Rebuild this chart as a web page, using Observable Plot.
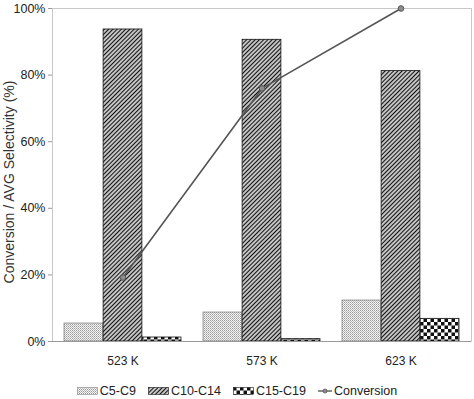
<!DOCTYPE html>
<html><head><meta charset="utf-8">
<script src="https://cdn.jsdelivr.net/npm/d3@7"></script>
<script src="https://cdn.jsdelivr.net/npm/@observablehq/plot@0.6"></script>
<style>
body{margin:0;background:#fff;font-family:"Liberation Sans Narrow","Liberation Sans",Arial,sans-serif;}
#legend{display:flex;justify-content:center;align-items:center;height:16px;margin-top:3px;font-size:12.5px;color:#222;width:474px;}
#legend .it{display:flex;align-items:center;margin:0 6px;}
#legend svg{margin-right:2px;}
</style></head><body>
<svg width="0" height="0" style="position:absolute">
<defs>
<pattern id="dots" patternUnits="userSpaceOnUse" width="2" height="2"><rect width="2" height="2" fill="#f4f4f4"/><rect width="1" height="1" fill="#999"/><rect x="1" y="1" width="1" height="1" fill="#bbb"/></pattern>
<pattern id="hatch" patternUnits="userSpaceOnUse" width="3" height="3" patternTransform="rotate(45)"><rect width="3" height="3" fill="#fff"/><line x1="1.5" y1="0" x2="1.5" y2="3" stroke="#111" stroke-width="1.5"/></pattern>
<pattern id="checker" patternUnits="userSpaceOnUse" width="7" height="7"><rect width="7" height="7" fill="#fff"/><rect width="3.5" height="3.5" fill="#111"/><rect x="3.5" y="3.5" width="3.5" height="3.5" fill="#111"/></pattern>
</defs></svg>
<div id="chart"></div>
<div id="legend"></div>
<script>
const temps = ["523 K", "573 K", "623 K"];
const seriesNames = ["C5-C9", "C10-C14", "C15-C19"];
const c5c9 = [0.054, 0.087, 0.123];
const c10c14 = [0.937, 0.906, 0.812];
const c15c19 = [0.012, 0.007, 0.068];
const conversion = [0.192, 0.76, 1.0];
const lineName = "Conversion";
const yTicks = [0, 0.2, 0.4, 0.6, 0.8, 1.0];
const yLabel = "Conversion / AVG Selectivity (%)";

const W = 474, H = 380, mL = 52, mR = 3, mT = 8, mB = 39;
const pIn = 0.16, pOut = 0.08;
const bw = d3.scaleBand().domain(temps).range([mL, W - mR]).paddingInner(pIn).paddingOuter(pOut).bandwidth();

const rows = temps.map((t, i) => ({temp: t, c5c9: c5c9[i], c10c14: c10c14[i], c15c19: c15c19[i], conv: conversion[i]}));
const styles = [
  {key: "c5c9", fill: "url(#dots)", stroke: "#888"},
  {key: "c10c14", fill: "url(#hatch)", stroke: "#111"},
  {key: "c15c19", fill: "url(#checker)", stroke: "#111"}
];
const barMarks = styles.map((s, i) => Plot.barY(rows, {
  x: "temp", y: s.key, fill: s.fill, stroke: s.stroke, strokeWidth: 0.8,
  insetLeft: i * bw / 3, insetRight: (2 - i) * bw / 3
}));

const plot = Plot.plot({
  width: W, height: H, marginLeft: mL, marginRight: mR, marginTop: mT, marginBottom: mB,
  x: {type: "band", domain: temps, paddingInner: pIn, paddingOuter: pOut},
  y: {domain: [0, 1]},
  style: {fontFamily: '"Liberation Sans Narrow","Liberation Sans",Arial,sans-serif', fontSize: "12.5px", color: "#222", background: "#fff"},
  marks: [
    Plot.frame({stroke: "#c8c8c8"}),
    ...barMarks,
    Plot.ruleY([0], {stroke: "#999"}),
    Plot.lineY(rows, {x: "temp", y: "conv", stroke: "#555", strokeWidth: 1.6}),
    Plot.dot(rows, {x: "temp", y: "conv", r: 2.8, fill: "#8c8c8c", stroke: "#555", strokeWidth: 1}),
    Plot.axisY({ticks: yTicks, tickFormat: d3.format(".0%"), tickSize: 4, tickPadding: 3, label: null, stroke: "#999"}),
    Plot.axisX({tickSize: 0, tickPadding: 15, label: null, fontSize: 12}),
    Plot.text([yLabel], {frameAnchor: "left", textAnchor: "middle", rotate: -90, dx: -43, dy: 7, fontSize: 14, fontFamily: '"Liberation Sans",Arial,sans-serif', fill: "#333"})
  ]
});
document.getElementById("chart").appendChild(plot);

// legend
const leg = document.getElementById("legend");
const fills = ["url(#dots)", "url(#hatch)", "url(#checker)"];
const strokes = ["#888", "#111", "#111"];
seriesNames.forEach((n, i) => {
  const d = document.createElement("div"); d.className = "it";
  d.innerHTML = `<svg width="21" height="8"><rect x="0.5" y="0.5" width="20" height="7" fill="${fills[i]}" stroke="${strokes[i]}" stroke-width="0.6"/></svg><span>${n}</span>`;
  leg.appendChild(d);
});
const dl = document.createElement("div"); dl.className = "it";
dl.innerHTML = `<svg width="14" height="8"><line x1="0" y1="4" x2="14" y2="4" stroke="#5a5a5a" stroke-width="1.4"/><circle cx="7" cy="4" r="2" fill="#8c8c8c" stroke="#555" stroke-width="0.8"/></svg><span>${lineName}</span>`;
leg.appendChild(dl);
</script></body></html>
